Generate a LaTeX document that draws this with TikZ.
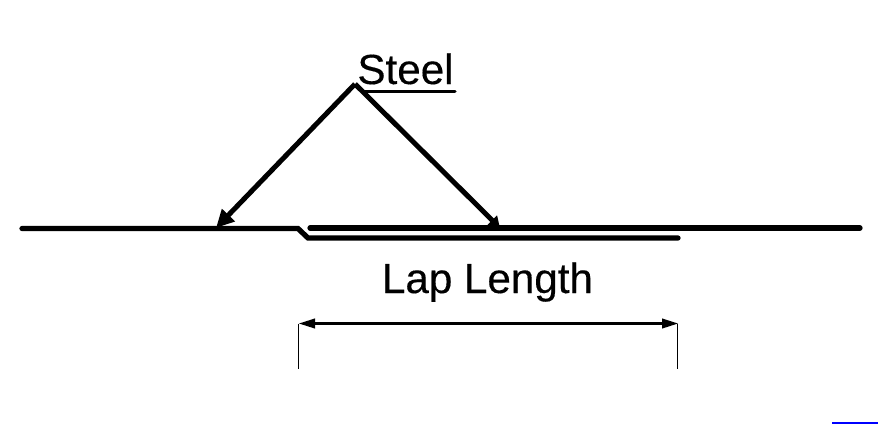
\documentclass[tikz,border=0pt]{standalone}
\usepackage{fontspec}
\setmainfont[FakeBold=0.35]{Liberation Sans}
\usetikzlibrary{arrows.meta}
\definecolor{sheetblue}{RGB}{0,0,255}
\tikzset{
  sheet/.style={line width=0.105cm,line cap=round,line join=miter},
  leader/.style={line width=0.1cm,-{Stealth[length=0.36cm,width=0.34cm,inset=0pt]}},
  dimline/.style={line width=0.07cm,line cap=round,{Stealth[length=0.34cm,width=0.18cm,inset=0pt]}-{Stealth[length=0.34cm,width=0.18cm,inset=0pt]}},
  extline/.style={line width=0.02cm},
  label/.style={font=\fontsize{24pt}{26pt}\selectfont,inner sep=0pt,anchor=base}
}
\begin{document}
\begin{tikzpicture}[x=0.02cm,y=-0.02cm]
\useasboundingbox (0,0) rectangle (878,424);
% labels
\node[label] (steel) at (405.5,84) {Steel};
\node[label] (lap) at (487.5,293) {Lap Length};
% leader
\coordinate (apex) at (355,84);
\coordinate (leftTip) at (216,228);
\coordinate (rightTip) at (500,228);
\coordinate (underA) at (363,91);
\coordinate (underB) at (455,91);
\draw[line width=0.06cm,line cap=round] (underA) -- (underB);
\draw[leader] (apex) -- (leftTip);
\draw[line width=0.1cm,-{Stealth[length=0.22cm,width=0.26cm,inset=0pt]}] (apex) -- (rightTip);
% bars
\coordinate (lowerA) at (22,228.5);
\coordinate (lowerB) at (298,228.5);
\coordinate (lowerC) at (308,238);
\coordinate (lowerD) at (678,238);
\coordinate (upperA) at (310,228);
\coordinate (upperB) at (860,228);
\draw[sheet] (lowerA) -- (lowerB) -- (lowerC) -- (lowerD);
\draw[sheet] (upperA) -- (upperB);
% dimension
\coordinate (dimA) at (298,323.5);
\coordinate (dimB) at (679,323.5);
\coordinate (extA) at (298.5,369);
\coordinate (extB) at (677.5,369);
\draw[dimline] (dimA) -- (dimB);
\draw[extline] (298.5,323.5) -- (extA);
\draw[extline] (677.5,323.5) -- (extB);
% corner mark
\coordinate (markA) at (832,423);
\coordinate (markB) at (878,423);
\draw[sheetblue,line width=0.04cm] (markA) -- (markB);
\end{tikzpicture}
\end{document}
